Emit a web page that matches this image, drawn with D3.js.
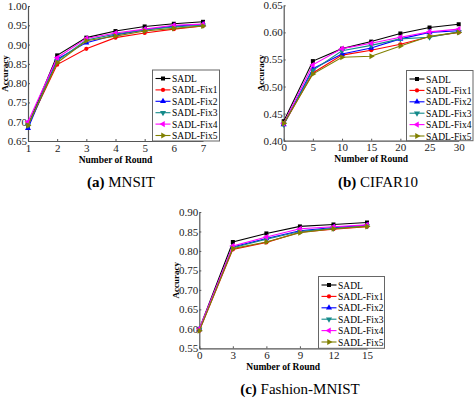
<!DOCTYPE html>
<html>
<head>
<meta charset="utf-8">
<script src="https://cdn.jsdelivr.net/npm/d3@7"></script>
<style>
  body { margin: 0; background: #fff; }
  svg { display: block; font-family: "Liberation Serif", "Times New Roman", serif; }
</style>
</head>
<body>
<svg id="chart" width="474" height="399"></svg>
<script>
const seriesNames = ['SADL', 'SADL-Fix1', 'SADL-Fix2', 'SADL-Fix3', 'SADL-Fix4', 'SADL-Fix5']
const seriesColors = ['#000000', '#ff0000', '#0000ff', '#138a8a', '#ff00ff', '#808000']

// (a) MNSIT
const mnistRounds = [1, 2, 3, 4, 5, 6, 7]
const mnistTicks = [0.65, 0.70, 0.75, 0.80, 0.85, 0.90, 0.95, 1.00]
const mnistAcc = [
    [0.690, 0.872, 0.918, 0.935, 0.947, 0.954, 0.959],
    [0.690, 0.848, 0.889, 0.918, 0.930, 0.940, 0.948],
    [0.683, 0.862, 0.905, 0.925, 0.938, 0.948, 0.952],
    [0.690, 0.858, 0.912, 0.927, 0.938, 0.946, 0.950],
    [0.700, 0.866, 0.916, 0.930, 0.940, 0.950, 0.953],
    [0.690, 0.853, 0.910, 0.922, 0.935, 0.942, 0.948]
]

// (b) CIFAR10
const cifarRounds = [0, 5, 10, 15, 20, 25, 30]
const cifarTicks = [0.40, 0.45, 0.50, 0.55, 0.60, 0.65]
const cifarAcc = [
    [0.436, 0.547, 0.570, 0.583, 0.598, 0.609, 0.615],
    [0.430, 0.525, 0.558, 0.567, 0.578, 0.592, 0.600],
    [0.430, 0.533, 0.560, 0.571, 0.588, 0.600, 0.603],
    [0.430, 0.530, 0.566, 0.576, 0.588, 0.591, 0.601],
    [0.432, 0.540, 0.570, 0.580, 0.591, 0.601, 0.606],
    [0.432, 0.523, 0.554, 0.556, 0.575, 0.593, 0.600]
]

// (c) Fashion-MNIST
const fashionRounds = [0, 3, 6, 9, 12, 15]
const fashionTicks = [0.55, 0.60, 0.65, 0.70, 0.75, 0.80, 0.85, 0.90]
const fashionAcc = [
    [0.600, 0.823, 0.845, 0.863, 0.868, 0.873],
    [0.595, 0.804, 0.822, 0.848, 0.856, 0.862],
    [0.598, 0.810, 0.832, 0.852, 0.860, 0.866],
    [0.598, 0.808, 0.830, 0.850, 0.858, 0.864],
    [0.600, 0.813, 0.836, 0.857, 0.862, 0.867],
    [0.595, 0.806, 0.823, 0.847, 0.857, 0.863]
]

const panels = [
    {rounds: mnistRounds, ticks: mnistTicks, acc: mnistAcc, label: '(a)', name: ' MNSIT',
     x: [28, 203], y: [141, 6], legend: {x: 152.5, y: 70, w: 67}, titleX: 121},
    {rounds: cifarRounds, ticks: cifarTicks, acc: cifarAcc, label: '(b)', name: ' CIFAR10',
     x: [283.7, 458.7], y: [140.7, 5.3], legend: {x: 406.5, y: 70.5, w: 66.5}, titleX: 378},
    {rounds: fashionRounds, ticks: fashionTicks, acc: fashionAcc, label: '(c)', name: ' Fashion-MNIST',
     x: [199.3, 367], y: [348.3, 212], legend: {x: 318.5, y: 276.5, w: 66}, titleX: 300}
]

const svg = d3.select('#chart')

// marker shapes: square, circle, up/down/left/right triangles
const markerTypes = [d3.symbolSquare, d3.symbolCircle, d3.symbolTriangle, d3.symbolTriangle, d3.symbolTriangle, d3.symbolTriangle]
const markerSizes = [16, 14, 16, 16, 16, 16]
const markerRotate = [0, 0, 0, 180, -90, 90]

function drawMarker(g, i, x, y) {
    g.append('path')
        .attr('d', d3.symbol().type(markerTypes[i]).size(markerSizes[i])())
        .attr('transform', `translate(${x},${y})rotate(${markerRotate[i]})`)
        .attr('fill', seriesColors[i])
}

panels.forEach(p => {
    const g = svg.append('g')
    const xScale = d3.scaleLinear().domain(d3.extent(p.rounds)).range(p.x)
    const yScale = d3.scaleLinear().domain(d3.extent(p.ticks)).range(p.y)

    const xAxis = g.append('g')
        .attr('transform', `translate(0,${p.y[0]})`)
        .call(d3.axisBottom(xScale).tickValues(p.rounds).tickSizeInner(-2).tickSizeOuter(0).tickPadding(3).tickFormat(d3.format('d')))
    const yAxis = g.append('g')
        .attr('transform', `translate(${p.x[0]},0)`)
        .call(d3.axisLeft(yScale).tickValues(p.ticks).tickSizeInner(-2).tickSizeOuter(0).tickPadding(1).tickFormat(d3.format('.2f')))

    ;[xAxis, yAxis].forEach(a => {
        a.select('.domain').attr('stroke', '#555').attr('stroke-width', 1.2)
        a.selectAll('.tick line').attr('stroke', '#555')
        a.selectAll('text').attr('font-size', 11).attr('fill', '#222')
            .attr('font-family', '"Liberation Serif", serif')
    })

    // lines and markers
    const line = d3.line()
        .x((d, j) => xScale(p.rounds[j]))
        .y(d => yScale(d))

    p.acc.forEach((vals, i) => {
        g.append('path')
            .datum(vals)
            .attr('d', line)
            .attr('fill', 'none')
            .attr('stroke', seriesColors[i])
            .attr('stroke-width', 1.1)
        vals.forEach((v, j) => drawMarker(g, i, xScale(p.rounds[j]), yScale(v)))
    })

    // axis titles
    const midX = (p.x[0] + p.x[1]) / 2
    g.append('text')
        .attr('x', midX)
        .attr('y', p.y[0] + 21.5)
        .attr('text-anchor', 'middle')
        .attr('font-size', 9.5)
        .attr('font-weight', 'bold')
        .text('Number of Round')

    g.append('text')
        .attr('transform', `translate(${p.x[0] - 20},${(p.y[0] + p.y[1]) / 2})rotate(-90)`)
        .attr('text-anchor', 'middle')
        .attr('font-size', 9)
        .attr('font-weight', 'bold')
        .text('Accuracy')

    // panel caption
    const cap = g.append('text')
        .attr('x', p.titleX)
        .attr('y', p.y[0] + 46)
        .attr('text-anchor', 'middle')
        .attr('font-size', 15)
    cap.append('tspan').attr('font-weight', 'bold').text(p.label)
    cap.append('tspan').text(p.name)

    // legend
    const rowH = 11.4
    const lg = g.append('g').attr('transform', `translate(${p.legend.x},${p.legend.y})`)
    lg.append('rect')
        .attr('width', p.legend.w)
        .attr('height', p.y[0] - p.legend.y)
        .attr('fill', '#fff')
        .attr('stroke', '#666')
        .attr('stroke-width', 1)
    seriesNames.forEach((name, i) => {
        const cy = 8.5 + i * rowH
        lg.append('line')
            .attr('x1', 3).attr('x2', 18)
            .attr('y1', cy).attr('y2', cy)
            .attr('stroke', seriesColors[i])
            .attr('stroke-width', 1.1)
        drawMarker(lg, i, 10.5, cy)
        lg.append('text')
            .attr('x', 19.5)
            .attr('y', cy + 3.5)
            .attr('font-size', 9.5)
            .text(name)
    })
})
</script>
</body>
</html>
